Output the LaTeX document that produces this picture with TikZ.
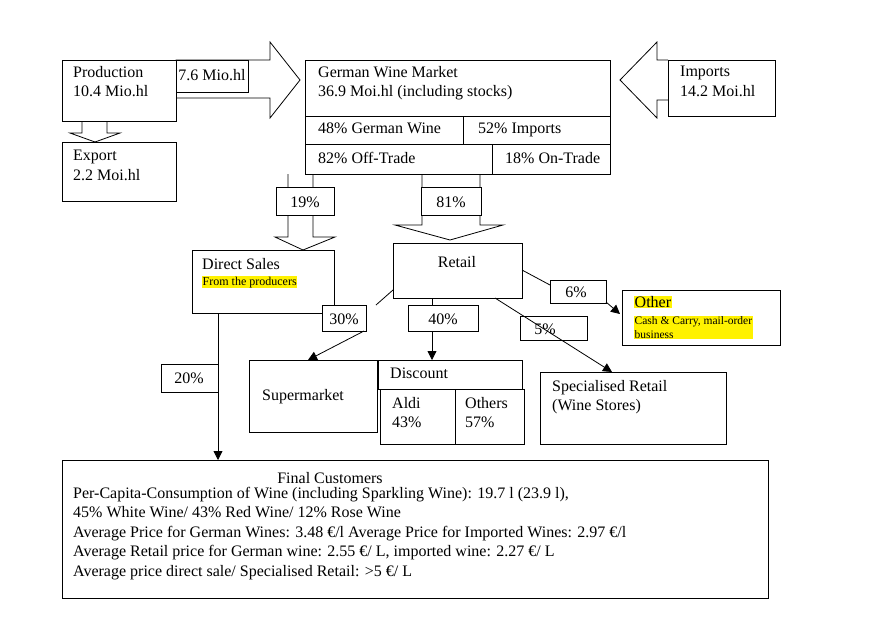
\documentclass[tikz,border=0pt]{standalone}
\usepackage{fontspec}
\setmainfont{Liberation Serif}
\usetikzlibrary{arrows.meta}
\begin{document}
\begin{tikzpicture}[x=1pt,y=-1pt,
  bx/.style={draw,line width=0.8pt,fill=white},
  tx/.style={anchor=north west,inner sep=0pt,align=left,font=\fontsize{16}{19.5}\selectfont},
  ct/.style={inner sep=0pt,font=\fontsize{16}{19.5}\selectfont},
  sm/.style={anchor=north west,inner sep=0.5pt,align=left,fill=yellow,font=\fontsize{12}{14}\selectfont},
  hol/.style={draw,line width=0.8pt,fill=white},
  ln/.style={line width=0.8pt},
  ar/.style={line width=0.8pt,-{Triangle[length=9pt,width=9pt]}}]
\useasboundingbox (0,0) rectangle (871,622);
% hollow arrows
\draw[hol] (176,60)--(270,60)--(270,42)--(300,80)--(270,118)--(270,98)--(176,98)--cycle;
\draw[hol] (668,60)--(657,60)--(657,42)--(620,80)--(657,118)--(657,100)--(668,100);
\draw[hol] (82,121)--(82,133)--(70,133)--(95,142)--(120,133)--(107,133)--(107,121);
\draw[hol] (288,174)--(288,237)--(275,237)--(303,250)--(335,237)--(313,237)--(313,174);
\draw[hol] (422,174)--(422,225)--(395,225)--(450,240)--(503,225)--(480,225)--(480,174);
% boxes
\draw[bx] (62,60) rectangle (176,121);
\node[tx] (prod) at (73,66) {Production\\10.4 Mio.hl};
\draw[bx] (176,60) rectangle (248,92);
\node[ct] (mio) at (212,75) {7.6 Mio.hl};
\draw[bx] (62,142) rectangle (176,201);
\node[tx] (exp) at (73,150) {Export\\2.2 Moi.hl};
\draw[bx] (305,60) rectangle (610,116);
\node[tx] (gwm) at (318,66) {German Wine Market\\36.9 Moi.hl (including stocks)};
\draw[bx] (305,116) rectangle (463,144);
\draw[bx] (463,116) rectangle (610,144);
\node[tx] (gw) at (318,123) {48\% German Wine};
\node[tx] (im) at (478,123) {52\% Imports};
\draw[bx] (305,144) rectangle (492,174);
\draw[bx] (492,144) rectangle (610,174);
\node[tx] (off) at (318,152) {82\% Off-Trade};
\node[tx] (on) at (505,152) {18\% On-Trade};
\draw[bx] (668,60) rectangle (775,116);
\node[tx] (imp) at (680,66) {Imports\\14.2 Moi.hl};
\draw[bx] (276,187) rectangle (334,215);
\node[ct] (p19) at (305,202) {19\%};
\draw[bx] (421,187) rectangle (481,215);
\node[ct] (p81) at (451,202) {81\%};
\draw[bx] (192,250) rectangle (334,313);
\node[tx] (ds) at (202,258) {Direct Sales};
\node[sm] (dsp) at (202,276) {From the producers};
\draw[bx] (393,243) rectangle (522,298);
\node[ct] (ret) at (457,262) {Retail};
% connectors
\coordinate (d0) at (218,313);
\coordinate (d1) at (218,460);
\draw[ar] (d0)--(d1);
\draw[bx] (161,364) rectangle (218,392);
\node[ct] (p20) at (189,378) {20\%};
\coordinate (r1) at (393,290);
\coordinate (r1b) at (376,305);
\draw[ln] (r1)--(r1b);
\draw[bx] (322,305) rectangle (366,331);
\node[ct] (p30) at (344,319) {30\%};
\coordinate (s0) at (364,331);
\coordinate (s1) at (308,360);
\draw[ar] (s0)--(s1);
\coordinate (r2) at (432,298);
\coordinate (r2b) at (432,305);
\draw[ln] (r2)--(r2b);
\draw[bx] (408,305) rectangle (478,331);
\node[ct] (p40) at (443,319) {40\%};
\coordinate (q0) at (432,331);
\coordinate (q1) at (432,360);
\draw[ar] (q0)--(q1);
\draw[bx] (520,316) rectangle (587,340);
\coordinate (f0) at (495,298);
\coordinate (f1) at (612,372);
\draw[ar] (f0)--(f1);
\node[ct] (p5) at (545,329) {5\%};
\coordinate (g0) at (522,270);
\coordinate (g1) at (550,285);
\draw[ln] (g0)--(g1);
\draw[bx] (550,280) rectangle (606,303);
\node[ct] (p6) at (576,292) {6\%};
\coordinate (h0) at (606,302);
\coordinate (h1) at (620,314);
\draw[ar] (h0)--(h1);
\draw[bx] (622,290) rectangle (780,345);
\node[anchor=north west,inner sep=0.5pt,fill=yellow,font=\fontsize{16}{19}\selectfont] (oth) at (634,296) {Other};
\node[sm,font=\fontsize{11.5}{13.5}\selectfont] (oths) at (634,316) {Cash \& Carry, mail-order\\business};
\draw[bx] (249,360) rectangle (377,432);
\node[ct] (sup) at (303,397) {Supermarket};
\draw[bx] (378,360) rectangle (522,389);
\node[tx] (dis) at (390,368) {Discount};
\draw[bx] (380,389) rectangle (455,444);
\draw[bx] (455,389) rectangle (524,444);
\node[tx] (ald) at (392,397) {Aldi\\43\%};
\node[tx] (ots) at (465,397) {Others\\57\%};
\draw[bx] (540,372) rectangle (726,444);
\node[tx] (spr) at (552,380) {Specialised Retail\\(Wine Stores)};
\draw[bx] (62,460) rectangle (768,598);
\node[ct] (fc) at (330,478) {Final Customers};
\node[tx] (fct) at (73,487) {Per-Capita-Consumption of Wine (including Sparkling Wine): 19.7 l (23.9 l),\\45\% White Wine/ 43\% Red Wine/ 12\% Rose Wine\\Average Price for German Wines: 3.48 €/l Average Price for Imported Wines: 2.97 €/l\\Average Retail price for German wine: 2.55 €/ L, imported wine: 2.27 €/ L\\Average price direct sale/ Specialised Retail: >5 €/ L};
\end{tikzpicture}
\end{document}
